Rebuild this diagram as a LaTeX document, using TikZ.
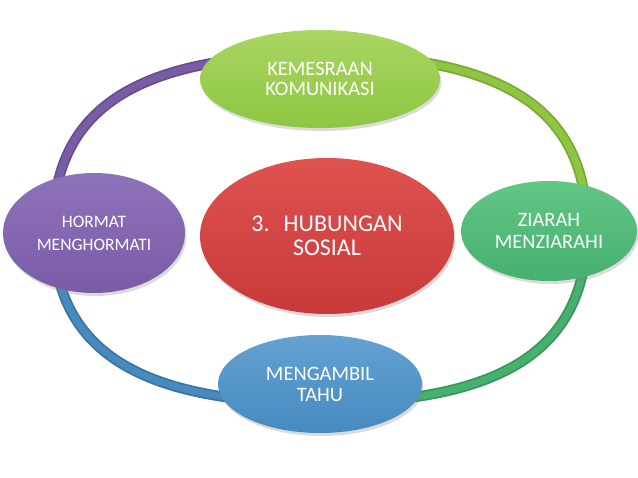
\documentclass[tikz,border=0pt]{standalone}
\usepackage{fontspec}
\setmainfont{Carlito}
\usetikzlibrary{shapes.geometric,shadows}
\definecolor{cLime}{RGB}{142,198,65}
\definecolor{cLimeT}{RGB}{170,214,98}
\definecolor{cPurple}{RGB}{122,92,166}
\definecolor{cPurpleT}{RGB}{142,114,186}
\definecolor{cRed}{RGB}{200,58,58}
\definecolor{cRedT}{RGB}{222,82,80}
\definecolor{cEmer}{RGB}{70,176,110}
\definecolor{cEmerT}{RGB}{98,198,134}
\definecolor{cBlue}{RGB}{70,138,190}
\definecolor{cBlueT}{RGB}{100,162,210}
\tikzset{
  bubble/.style={ellipse, inner sep=0pt, text=white, align=center,
    drop shadow={opacity=0.28, shadow xshift=1.5pt, shadow yshift=-3pt}},
  ringarc/.style={line width=10.5pt, line cap=butt},
  ringcore/.style={line width=7pt, line cap=butt},
}
\begin{document}
\begin{tikzpicture}[x=1pt,y=-1pt]
\useasboundingbox[fill=white] (0,0) rectangle (638,478);

\coordinate (rL) at (53,229);
\coordinate (rT) at (320,55);
\coordinate (rR) at (587,229);
\coordinate (rB) at (320,403);

% ring arcs
\draw[ringarc, cPurple!85!black] (rL) .. controls (53,109) and (136,55) .. (rT);
\draw[ringcore, cPurple] (rL) .. controls (53,109) and (136,55) .. (rT);
\draw[ringarc, cLime!85!black] (rT) .. controls (504,55) and (587,109) .. (rR);
\draw[ringcore, cLime] (rT) .. controls (504,55) and (587,109) .. (rR);
\draw[ringarc, cEmer!85!black] (rR) .. controls (587,349) and (504,403) .. (rB);
\draw[ringcore, cEmer] (rR) .. controls (587,349) and (504,403) .. (rB);
\draw[ringarc, cBlue!85!black] (rB) .. controls (136,403) and (53,349) .. (rL);
\draw[ringcore, cBlue] (rB) .. controls (136,403) and (53,349) .. (rL);

% nodes
\node[bubble, minimum width=240pt, minimum height=98pt, top color=cLimeT, bottom color=cLime,
  font=\fontsize{20.5}{20}\selectfont] (top) at (320,79) {KEMESRAAN\\KOMUNIKASI};
\node[bubble, minimum width=182pt, minimum height=120pt, top color=cPurpleT, bottom color=cPurple,
  font=\fontsize{17.5}{23}\selectfont] (left) at (94,233) {HORMAT\\MENGHORMATI};
\node[bubble, minimum width=176pt, minimum height=100pt, top color=cEmerT, bottom color=cEmer,
  font=\fontsize{20.5}{22}\selectfont] (right) at (549,231) {ZIARAH\\MENZIARAHI};
\node[bubble, minimum width=204pt, minimum height=98pt, top color=cBlueT, bottom color=cBlue,
  font=\fontsize{20.5}{21}\selectfont] (bottom) at (320,384) {MENGAMBIL\\TAHU};
\node[bubble, minimum width=254pt, minimum height=156pt, top color=cRedT, bottom color=cRed,
  font=\fontsize{24}{24.5}\selectfont] (center) at (327,236) {3.\hspace{14pt}HUBUNGAN\\SOSIAL};
\end{tikzpicture}
\end{document}
